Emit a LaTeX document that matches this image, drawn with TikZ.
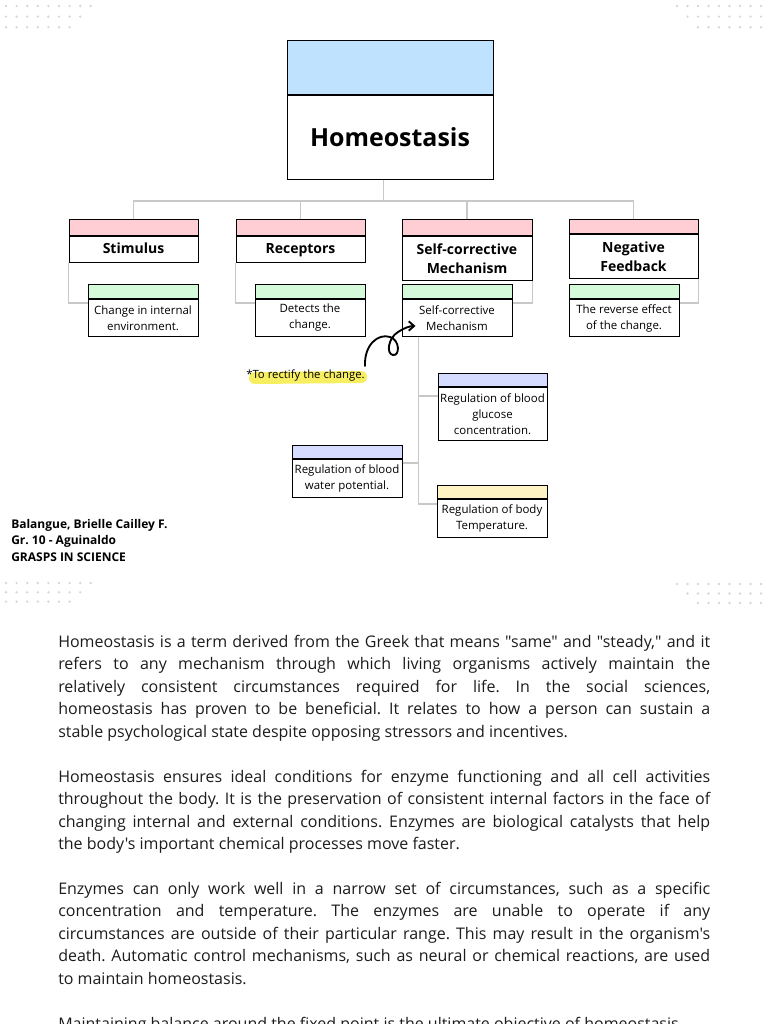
\documentclass[tikz,border=0pt]{standalone}
\usepackage{fontspec}
\setmainfont{Open Sans}[Ligatures=TeXOff]
\usetikzlibrary{positioning,calc,arrows.meta,backgrounds}
\definecolor{hdblue}{RGB}{191,227,255}
\definecolor{cardpink}{RGB}{255,206,212}
\definecolor{subgreen}{RGB}{212,250,218}
\definecolor{reglav}{RGB}{214,220,255}
\definecolor{regyellow}{RGB}{255,243,196}
\definecolor{linkgray}{RGB}{200,200,200}
\definecolor{speckgray}{RGB}{215,215,215}
\definecolor{marker}{RGB}{247,236,80}
\definecolor{bodytext}{RGB}{28,28,28}
\tikzset{
    band/.style={rectangle, draw=black, line width=0.75pt, inner sep=0pt, anchor=north},
    card/.style={rectangle, draw=black, line width=0.75pt, fill=white, inner sep=0pt, align=center, font=\fontsize{10.5}{14.25}\selectfont\bfseries},
    subbox/.style={rectangle, draw=black, line width=0.75pt, fill=white, inner sep=0pt, align=center, font=\fontsize{8.6}{12}\selectfont},
    link/.style={linkgray, line width=1pt},
    para/.style={anchor=north west, inner sep=0pt, text width=489pt, align=justify, text=bodytext, font=\fontsize{12}{16.8}\selectfont},
}

\begin{document}
\frenchspacing
\begin{tikzpicture}[x=0.75pt, y=-0.75pt]
    \useasboundingbox (0,0) rectangle (768,1024);
    \clip (0,0) rectangle (768,1024);

    % dotted corners
    \foreach \r in {0,1,2} {
        \pgfmathtruncatemacro\n{8-\r}
        \foreach \c in {0,...,\n} {
            \fill[speckgray] (6+10.6*\c, 6+10.6*\r) circle (1pt);
            \fill[speckgray] (761-10.5*\c, 6+10.6*\r) circle (1pt);
            \fill[speckgray] (6+10.6*\c, 583+9.3*\r) circle (1pt);
            \fill[speckgray] (761-10.5*\c, 584+9.5*\r) circle (1pt);
        }
    }

    % Homeostasis
    \node[band, fill=hdblue, minimum width=154.5pt, minimum height=40.5pt] (hdtop) at (390,40) {};
    \node[card, below=0pt of hdtop, minimum width=154.5pt, minimum height=63pt, font=\fontsize{18.7}{22}\selectfont\bfseries] (hd) {Homeostasis};

    % four cards
    \node[band, fill=cardpink, minimum width=96.75pt, minimum height=12pt] (stimtop) at (133.5,219) {};
    \node[card, below=0pt of stimtop, minimum width=96.75pt, minimum height=19.5pt] (stim) {Stimulus\strut};

    \node[band, fill=cardpink, minimum width=96.75pt, minimum height=12pt] (rectop) at (300.5,219) {};
    \node[card, below=0pt of rectop, minimum width=96.75pt, minimum height=19.5pt] (rec) {Receptors\strut};

    \node[band, fill=cardpink, minimum width=97.5pt, minimum height=12pt] (selftop) at (467,219) {};
    \node[card, below=0pt of selftop, minimum width=97.5pt, minimum height=33pt] (self) {Self-corrective\\Mechanism};

    \node[band, fill=cardpink, minimum width=96.75pt, minimum height=10.5pt] (negtop) at (633.5,219) {};
    \node[card, below=0pt of negtop, minimum width=96.75pt, minimum height=33pt] (neg) {Negative\\Feedback};

    % notes under the cards
    \node[band, fill=subgreen, minimum width=82.5pt, minimum height=10.5pt] (stimsubtop) at (143,284) {};
    \node[subbox, below=0pt of stimsubtop, minimum width=82.5pt, minimum height=27.75pt] (stimsub) {Change in internal\\environment.};

    \node[band, fill=subgreen, minimum width=82.5pt, minimum height=10.5pt] (recsubtop) at (310,284) {};
    \node[subbox, below=0pt of recsubtop, minimum width=82.5pt, minimum height=27.75pt] (recsub) {Detects the\\change.};

    \node[band, fill=subgreen, minimum width=82.5pt, minimum height=10.5pt] (selfsubtop) at (457,284) {};
    \node[subbox, below=0pt of selfsubtop, minimum width=82.5pt, minimum height=27.75pt] (selfsub) {Self-corrective\\Mechanism};

    \node[band, fill=subgreen, minimum width=82.5pt, minimum height=10.5pt] (negsubtop) at (624,284) {};
    \node[subbox, below=0pt of negsubtop, minimum width=82.5pt, minimum height=27.75pt] (negsub) {The reverse effect\\of the change.};

    % regulations
    \node[band, fill=reglav, minimum width=81.75pt, minimum height=9.75pt] (glutop) at (492.5,373) {};
    \node[subbox, below=0pt of glutop, minimum width=81.75pt, minimum height=39.75pt] (glu) {Regulation of blood\\glucose\\concentration.};

    \node[band, fill=reglav, minimum width=82.5pt, minimum height=9.75pt] (wattop) at (347,445) {};
    \node[subbox, below=0pt of wattop, minimum width=82.5pt, minimum height=28.5pt] (wat) {Regulation of blood\\water potential.};

    \node[band, fill=regyellow, minimum width=82.5pt, minimum height=9.75pt] (temtop) at (492,485) {};
    \node[subbox, below=0pt of temtop, minimum width=82.5pt, minimum height=28.5pt] (tem) {Regulation of body\\Temperature.};

    % connectors
    \coordinate (bus) at ($(stimtop.north)!.5!(negtop.north)+(0,-18)$);
    \draw[link] (bus |- hd.south) -- (bus);
    \foreach \c in {stimtop,rectop,selftop,negtop}
        \draw[link] (bus) -| (\c.north);
    \draw[link] (stim.south west) |- ($(stimsub.north west)+(0,4)$);
    \draw[link] (rec.south west) |- ($(recsub.north west)+(0,4)$);
    \draw[link] (self.south east) |- ($(selfsub.north east)+(0,4)$);
    \draw[link] (neg.south east) |- ($(negsub.north east)+(0,4)$);

    \coordinate (spine) at ($(selfsub.south west)+(17,0)$);
    \coordinate (gluin) at ($(glu.north west)+(0,9)$);
    \coordinate (watin) at ($(wat.north east)+(0,4)$);
    \draw[link] (spine) |- ($(tem.north west)+(0,5)$);
    \draw[link] (spine |- gluin) -- (gluin);
    \draw[link] (watin) -- (spine |- watin);

    % side note with arrow
    \node[inner sep=0pt, font=\fontsize{8.5}{10}\selectfont] (note) at (305.5,376) {*To rectify the change.};
    \begin{pgfonlayer}{background}
        \draw[marker, line width=9pt, line cap=round, opacity=0.9] ($(note.west)+(9,2)$) -- ($(note.east)+(-4,1)$);
    \end{pgfonlayer}
    \coordinate (aim) at ($(selfsub.north west)+(14,27)$);
    \draw[line width=1.4pt, line cap=round, -{Straight Barb[length=4pt,width=7pt]}]
        ($(note.north east)+(0,-4)$) .. controls (364,345) and (378,333) .. (390,337)
        .. controls (400,340) and (400,356) .. (393,355)
        .. controls (386,354) and (388,338) .. (398,332)
        .. controls (404,328) and (410,326) .. (aim);

    % author
    \node[anchor=north west, inner sep=0pt, align=left, font=\fontsize{9}{12.4}\selectfont\bfseries] (author) at (11,519)
        {Balangue, Brielle Cailley F.\\Gr. 10 - Aguinaldo\\GRASPS IN SCIENCE};

    % text
    \node[para] (p1) at (58,635) {Homeostasis is a term derived from the Greek that means "same" and "steady," and it\linebreak refers to any mechanism through which living organisms actively maintain the\linebreak relatively consistent circumstances required for life. In the social sciences,\linebreak homeostasis has proven to be beneficial. It relates to how a person can sustain a\linebreak stable psychological state despite opposing stressors and incentives.};
    \node[para] (p2) at (58,770) {Homeostasis ensures ideal conditions for enzyme functioning and all cell activities\linebreak throughout the body. It is the preservation of consistent internal factors in the face of\linebreak changing internal and external conditions. Enzymes are biological catalysts that help\linebreak the body's important chemical processes move faster.};
    \node[para] (p3) at (58,882) {Enzymes can only work well in a narrow set of circumstances, such as a specific\linebreak concentration and temperature. The enzymes are unable to operate if any\linebreak circumstances are outside of their particular range. This may result in the organism's\linebreak death. Automatic control mechanisms, such as neural or chemical reactions, are used\linebreak to maintain homeostasis.};
    \node[para] (p4) at (58,1017) {Maintaining balance around the fixed point is the ultimate objective of homeostasis.};
\end{tikzpicture}
\end{document}
